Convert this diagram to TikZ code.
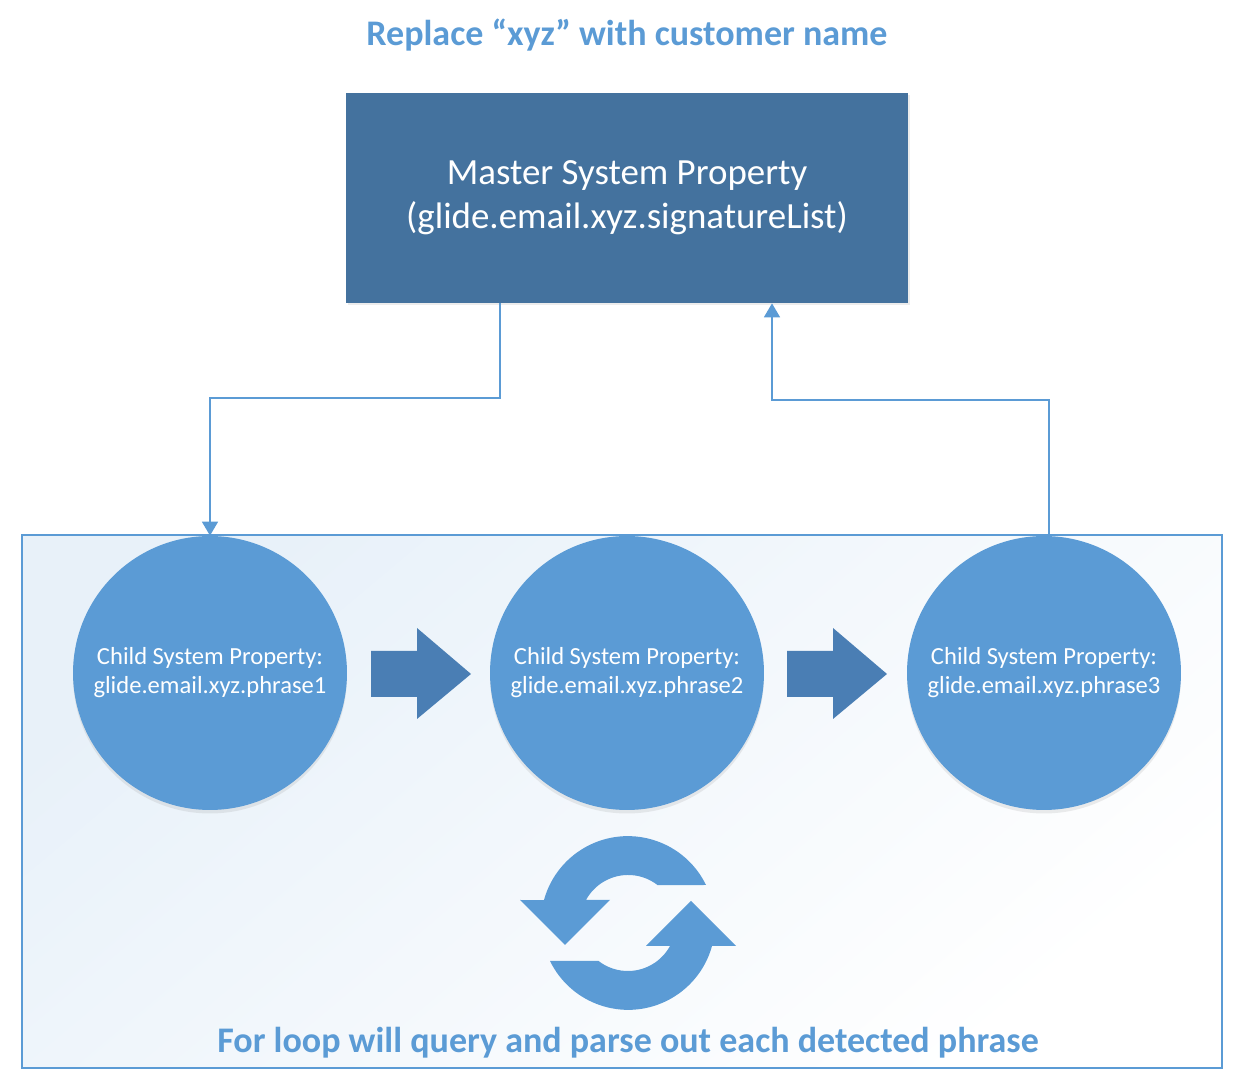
\documentclass[tikz,border=0pt]{standalone}
\usepackage{fontspec}
\setmainfont{Carlito}
\usetikzlibrary{arrows.meta,shadows}
\definecolor{lb}{HTML}{5B9BD5}
\definecolor{mb}{HTML}{44729E}
\definecolor{ab}{HTML}{4A7EB4}
\begin{document}
\begin{tikzpicture}[x=0.02cm,y=0.02cm,
  conn/.style={lb,line width=1.3pt},
  circ/.style={circle,fill=lb,minimum size=5.48cm,inner sep=0pt,text=white,font=\fontsize{14}{16.5}\selectfont,align=center,drop shadow={shadow xshift=0pt,shadow yshift=-2pt,opacity=0.15}},
  title/.style={text=lb,font=\bfseries\fontsize{20.5}{24}\selectfont}]
\useasboundingbox (0,0) rectangle (1248,1088);
\node[title] (t) at (627,1053) {Replace “xyz” with customer name};
\node[fill=mb,minimum width=11.24cm,minimum height=4.2cm,text=white,align=center,font=\fontsize{21}{25}\selectfont,drop shadow={opacity=0.15,shadow xshift=1pt,shadow yshift=-1pt}] (m) at (627,890) {\raisebox{-4pt}{Master System Property}\\\raisebox{-4pt}{(glide.email.xyz.signatureList)}};
\shade[top color=lb!14,bottom color=white,shading angle=40] (22.5,20.5) rectangle (1221.5,552.5);
\node[draw=lb,line width=1pt,minimum width=24cm,minimum height=10.66cm,inner sep=0pt] (box) at (622,286.5) {};
\node[circ] (c1) at (210,415) {Child System Property:\\glide.email.xyz.phrase1};
\node[circ] (c2) at (627,415) {Child System Property:\\glide.email.xyz.phrase2};
\node[circ] (c3) at (1044,415) {Child System Property:\\glide.email.xyz.phrase3};
\coordinate (a1) at (500,690); \coordinate (a2) at (210,690);
\draw[conn,-{Triangle[length=8pt,width=9pt]}] (m.south -| a1) -- (a1) -- (a2) -- (c1.north);
\coordinate (b1) at (1049,688); \coordinate (b2) at (772,688);
\draw[conn,-{Triangle[length=8pt,width=9pt]}] (c3.north -| b1) -- (b1) -- (b2) -- (m.south -| b2);
\foreach \x in {371,787}{
  \fill[ab] (\x,437) -- (\x+46,437) -- (\x+46,460) -- (\x+100,414) -- (\x+46,369) -- (\x+46,391) -- (\x,391) -- cycle;}
\node[title] (bt) at (628,45) {For loop will query and parse out each detected phrase};
\begin{scope}
\fill[lb] (706,203) arc[start angle=26,end angle=164.7,radius=1.74cm] -- (520,188) -- (565,143) -- (610,188) -- (586,188) arc[start angle=151.4,end angle=52,radius=0.96cm] -- cycle;
\end{scope}
\begin{scope}[rotate around={180:(628,165)}]
\fill[lb] (706,203) arc[start angle=26,end angle=164.7,radius=1.74cm] -- (520,188) -- (565,143) -- (610,188) -- (586,188) arc[start angle=151.4,end angle=52,radius=0.96cm] -- cycle;
\end{scope}
\end{tikzpicture}
\end{document}
